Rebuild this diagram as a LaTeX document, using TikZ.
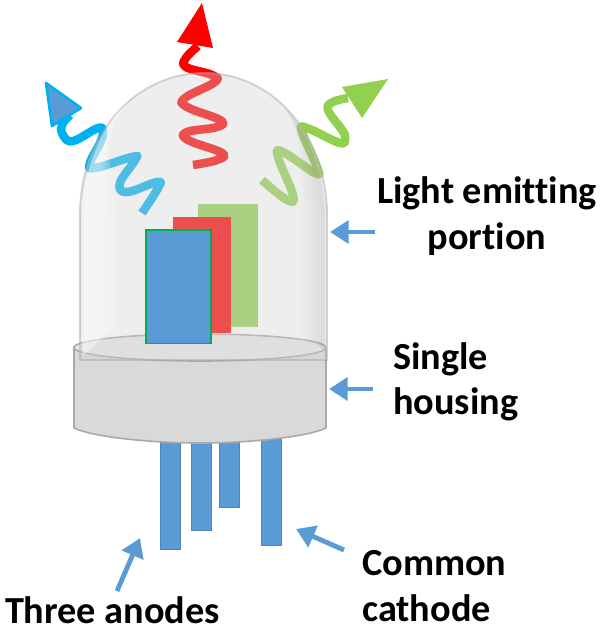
\documentclass[tikz,border=0pt]{standalone}
\usepackage{fontspec}
\setmainfont[RawFeature=-liga]{Carlito}
\usetikzlibrary{arrows.meta}
\definecolor{pointerblue}{RGB}{91,155,213}
\definecolor{waveblue}{RGB}{0,176,240}
\definecolor{wavegreen}{RGB}{146,208,80}
\definecolor{glassgray}{RGB}{210,210,210}
\definecolor{housinggray}{RGB}{217,217,217}
\definecolor{edgegray}{RGB}{170,170,170}
\definecolor{chipedge}{RGB}{0,176,80}
\tikzset{
	wave/.style={line width=6.4pt,line join=round},
	pointer/.style={draw=pointerblue,line width=3.6pt,-{Triangle[length=14pt,width=17pt]}},
	caption/.style={font=\bfseries\fontsize{28.7}{34}\selectfont,inner sep=0pt,text=black},
	leg/.style={draw=pointerblue!85!black,line width=0.6pt,fill=pointerblue},
}
\begin{document}
\begin{tikzpicture}[x=0.75pt,y=0.75pt,yscale=-1,xscale=1]
	\useasboundingbox (0,0) rectangle (600,629);
	% light rays
	\draw [wave,waveblue] plot [smooth,tension=0.7] coordinates {(70,115) (62,125) (63,135) (73,141) (98,128) (103,132) (100,143) (90,163) (95,168) (132,157) (135,160) (120,183) (127,192) (157,182) (158,188) (142,213)};
	\draw [fill=pointerblue,draw=waveblue,line width=2pt,line join=round] (46,83) -- (81,108) -- (52,126) -- cycle;
	\draw [wave,red] plot [smooth,tension=0.7] coordinates {(198,46) (186,58) (186,67) (212,75) (215,82) (185,98) (187,107) (220,120) (217,127) (187,132) (188,140) (222,153) (217,160) (193,165)};
	\fill [red] (202,3) -- (177,42) -- (213,48) -- cycle;
	\draw [wave,wavegreen] plot [smooth,tension=0.7] coordinates {(348,98) (333,102) (328,110) (342,130) (345,137) (340,143) (307,128) (302,132) (317,167) (315,173) (283,152) (278,157) (293,195) (287,200) (262,180)};
	\fill [wavegreen] (388,79) -- (342,87) -- (362,118) -- cycle;
	% chips behind the glass
	\fill [wavegreen] (198,204) rectangle (258,327);
	\fill [red] (173,217) rectangle (231,333);
	% legs
	\foreach \legleft/\legend in {160/549,191/530,219.5/507,261/545}
		\draw [leg] (\legleft,435) rectangle (\legleft+20,\legend);
	% housing
	\draw [fill=housinggray,draw=edgegray,line width=1.2pt] (74,347) -- (74,428) .. controls (90,436) and (145,443) .. (200,443) .. controls (255,443) and (310,436) .. (326,428) -- (326,347) -- cycle;
	\draw [fill=black!9,draw=edgegray,line width=1.2pt] (200,347.5) ellipse (126 and 13.5);
	% glass dome
	\draw [fill=glassgray,fill opacity=0.38,draw=edgegray,draw opacity=0.5,line width=1.4pt] (80,360) -- (80,215) .. controls (80,135) and (135,73) .. (204,73) .. controls (273,73) and (327,135) .. (327,215) -- (327,360) -- cycle;
	\foreach \bandwidth in {20,23,26,29,32,35}
		\fill [white,opacity=0.1] (83,356) -- (83,215) .. controls (83,170) and (100,128) .. (128,102) .. controls (95,140) and (83+\bandwidth,180) .. (83+\bandwidth,225) -- (83+\bandwidth,325) .. controls (83+\bandwidth,332) and (100,340) .. cycle;
	\foreach \bandwidth in {4,8,12,16,20,24}
		\fill [black,opacity=0.012] (325,350) -- (325,215) .. controls (325,175) and (310,135) .. (285,108) .. controls (305,140) and (325-\bandwidth,180) .. (325-\bandwidth,225) -- (325-\bandwidth,330) .. controls (325-\bandwidth,338) and (315,345) .. cycle;
	% front chip
	\draw [fill=pointerblue,draw=chipedge,line width=1.2pt] (146,230) rectangle (211,343.5);
	% pointers
	\coordinate (portionTail) at (375,232);
	\coordinate (portionTip) at (330,232);
	\coordinate (housingTail) at (373,389);
	\coordinate (housingTip) at (329,389);
	\coordinate (cathodeTail) at (344,550);
	\coordinate (cathodeTip) at (296,529);
	\coordinate (anodesTail) at (117,591);
	\coordinate (anodesTip) at (140,538);
	\draw [pointer] (portionTail) -- (portionTip);
	\draw [pointer] (housingTail) -- (housingTip);
	\draw [pointer] (cathodeTail) -- (cathodeTip);
	\draw [pointer] (anodesTail) -- (anodesTip);
	% labels
	\node [caption,align=center] (portionLabel) at (487,216) {Light emitting\\portion};
	\node [caption,align=left,anchor=west] (housingLabel) at (393,382) {Single\\housing};
	\node [caption,align=left,anchor=west] (cathodeLabel) at (362,586) {Common\\cathode};
	\node [caption] (anodesLabel) at (112.5,610) {Three anodes};
\end{tikzpicture}
\end{document}
